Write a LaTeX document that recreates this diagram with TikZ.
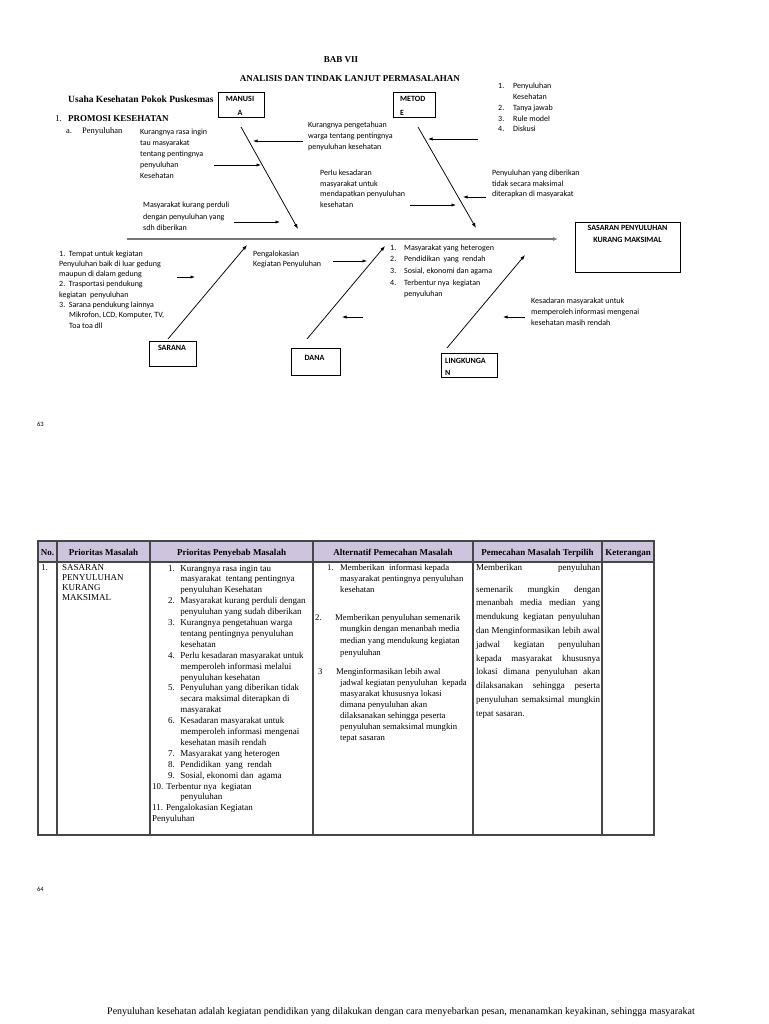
\documentclass[tikz,border=0pt]{standalone}
\usepackage{fontspec}
\setmainfont{Liberation Serif}
\newfontfamily\calfont{Carlito}
\usetikzlibrary{arrows.meta}
\definecolor{hdrfill}{RGB}{206,196,222}
\definecolor{tabline}{RGB}{70,70,70}
\definecolor{spinegray}{RGB}{120,120,120}
\newcommand{\ltab}[1]{\begin{tabular}[t]{@{}l@{}}#1\end{tabular}}
\newcommand{\ctab}[1]{\begin{tabular}[t]{@{}c@{}}#1\end{tabular}}
\begin{document}
\begin{tikzpicture}[x=1pt,y=-1pt,
 ann/.style={font=\calfont\fontsize{8}{11}\selectfont,anchor=base west,inner sep=0pt},
 boxlbl/.style={font=\calfont\bfseries\fontsize{8}{14}\selectfont,inner sep=0pt},
 cbox/.style={draw=black,line width=0.9pt,inner sep=0pt},
 bone/.style={line width=0.75pt,-{Latex[length=5pt,width=3.5pt]}},
 sarr/.style={line width=0.7pt,-{Latex[length=4.5pt,width=3.2pt]}},
 ttl/.style={font=\bfseries\fontsize{9}{11}\selectfont,inner sep=0pt},
 txt/.style={font=\fontsize{9}{10.9}\selectfont,anchor=base west,inner sep=0pt},
 hd/.style={font=\bfseries\fontsize{9}{11}\selectfont,anchor=base,inner sep=0pt},
 tl/.style={draw=tabline,line width=1.1pt}
]
\fill[white] (0,0) rectangle (768,1024);
\path[use as bounding box] (0,0) rectangle (768,1024);

% ---------- titles ----------
\node[ttl,anchor=base] (bab) at (341,63) {BAB VII};
\node[ttl,anchor=base] (judul) at (350,82) {ANALISIS DAN TINDAK LANJUT PERMASALAHAN};
\node[font=\bfseries\fontsize{9.5}{11}\selectfont,anchor=base west,inner sep=0pt] (usaha) at (68,103) {Usaha Kesehatan Pokok Puskesmas};
\node[font=\fontsize{9}{11}\selectfont,anchor=base west,inner sep=0pt] (nsatu) at (55,122) {1.};
\node[ttl,anchor=base west] (promosi) at (68,122) {PROMOSI KESEHATAN};
\node[font=\fontsize{8.5}{11}\selectfont,anchor=base west,inner sep=0pt] (pa) at (66,134) {a.};
\node[font=\fontsize{8.5}{11}\selectfont,anchor=base west,inner sep=0pt] (peny) at (82,134) {Penyuluhan};

% ---------- boxes ----------
\node[cbox,minimum width=46pt,minimum height=25pt] (manusia) at (241,104.5) {};
\node[boxlbl,anchor=base] (manusiaL) at (240,102) {\ctab{MANUSI\\A}};
\node[cbox,minimum width=42pt,minimum height=25pt] (metode) at (414,104.5) {};
\node[boxlbl,anchor=base west] (metodeL) at (400,102) {\ltab{METOD\\E}};
\node[cbox,minimum width=105pt,minimum height=50pt] (sasaran) at (627.5,247) {};
\node[boxlbl,font=\calfont\bfseries\fontsize{8}{11}\selectfont,anchor=base] (sasaranL) at (627.5,231) {\ctab{SASARAN PENYULUHAN\\KURANG MAKSIMAL}};
\node[cbox,minimum width=47pt,minimum height=25pt] (sarana) at (172.5,353.5) {};
\node[boxlbl,anchor=base] (saranaL) at (172,350) {SARANA};
\node[cbox,minimum width=49pt,minimum height=27pt] (dana) at (315.5,361.5) {};
\node[boxlbl,anchor=base] (danaL) at (314.5,360) {DANA};
\node[cbox,minimum width=56pt,minimum height=24pt] (lingk) at (469,365) {};
\node[boxlbl,font=\calfont\bfseries\fontsize{8}{12}\selectfont,anchor=base west] (lingkL) at (445,363) {\ltab{LINGKUNGA\\N}};

% ---------- bones ----------
\coordinate (mA) at (241,127); \coordinate (mB) at (298,229);
\coordinate (tA) at (418,127); \coordinate (tB) at (476,228);
\coordinate (sA) at (168,339); \coordinate (sB) at (247,245);
\coordinate (dA) at (307,339); \coordinate (dB) at (385,246);
\coordinate (lA) at (447,348); \coordinate (lB) at (525,255);
\coordinate (spA) at (127,239); \coordinate (spB) at (558,239);
\draw[line width=1.4pt,spinegray,-{Latex[length=5pt,width=4pt]}] (spA) -- (spB);
\draw[bone] (mA) -- (mB);
\draw[bone] (tA) -- (tB);
\draw[bone] (sA) -- (sB);
\draw[bone] (dA) -- (dB);
\draw[bone] (lA) -- (lB);

% ---------- small arrows ----------
\coordinate (a1s) at (214,165); \coordinate (a1e) at (261,165);
\coordinate (a2s) at (303,141); \coordinate (a2e) at (253,141);
\coordinate (a3s) at (234,222); \coordinate (a3e) at (280,222);
\coordinate (a4s) at (410,205); \coordinate (a4e) at (456,205);
\coordinate (a5s) at (478,139); \coordinate (a5e) at (428,139);
\coordinate (a6s) at (486,197); \coordinate (a6e) at (463,197);
\coordinate (a7s) at (177,277); \coordinate (a7e) at (195,277);
\coordinate (a8s) at (333,261); \coordinate (a8e) at (367,261);
\coordinate (a9s) at (363,317); \coordinate (a9e) at (342,317);
\coordinate (a10s) at (525,317); \coordinate (a10e) at (503,317);
\foreach \i in {1,...,10} {\draw[sarr] (a\i s) -- (a\i e);}

% ---------- annotations ----------
\node[ann] (t1) at (140,135) {\ltab{Kurangnya rasa ingin\\tau masyarakat\\tentang pentingnya\\penyuluhan\\Kesehatan}};
\node[ann,font=\calfont\fontsize{8}{10.8}\selectfont] (t2) at (308,128) {\ltab{Kurangnya pengetahuan\\warga tentang pentingnya\\penyuluhan kesehatan}};
\node[ann,font=\calfont\fontsize{8}{10.4}\selectfont] (t3) at (320,176) {\ltab{Perlu kesadaran\\masyarakat untuk\\mendapatkan penyuluhan\\kesehatan}};
\node[ann] (t4) at (143,208) {\ltab{Masyarakat kurang perduli\\dengan penyuluhan yang\\sdh diberikan}};
\node[ann,font=\calfont\fontsize{8}{10.75}\selectfont] (t5) at (498,89) {\begin{tabular}[t]{@{}p{15pt}@{}l@{}}1.&Penyuluhan\\&Kesehatan\\2.&Tanya jawab\\3.&Rule model\\4.&Diskusi\end{tabular}};
\node[ann,font=\calfont\fontsize{8}{10.5}\selectfont] (t6) at (492,176) {\ltab{Penyuluhan yang diberikan\\tidak secara maksimal\\diterapkan di masyarakat}};
\node[ann,font=\calfont\fontsize{8}{10.3}\selectfont] (t7) at (59,256) {\ltab{1.\ \ Tempat untuk kegiatan\\Penyuluhan baik di luar gedung\\maupun di dalam gedung\\2.\ \ Trasportasi pendukung\\kegiatan\ \ penyuluhan\\3.\ \ Sarana pendukung lainnya\\\hspace*{10pt}Mikrofon, LCD, Komputer, TV,\\\hspace*{10pt}Toa toa dll}};
\node[ann,font=\calfont\fontsize{8}{10.5}\selectfont] (t8) at (253,256) {\ltab{Pengalokasian\\Kegiatan Penyuluhan}};
\node[ann,font=\calfont\fontsize{8}{11.75}\selectfont] (t9) at (390,250) {\begin{tabular}[t]{@{}p{14pt}@{}l@{}}1.&Masyarakat yang heterogen\\2.&Pendidikan\ \ yang\ \ rendah\\3.&Sosial, ekonomi dan agama\\4.&Terbentur nya\ \ kegiatan\\&penyuluhan\end{tabular}};
\node[ann] (t10) at (531,303) {\ltab{Kesadaran masyarakat untuk\\memperoleh informasi mengenai\\kesehatan masih rendah}};

% ---------- page numbers ----------
\node[font=\calfont\fontsize{6.5}{8}\selectfont,anchor=base west,inner sep=0pt] (p63) at (37,426.5) {63};
\node[font=\calfont\fontsize{6.5}{8}\selectfont,anchor=base west,inner sep=0pt] (p64) at (37,891.5) {64};

% ---------- table ----------
\fill[hdrfill] (38,541) rectangle (654,562);
\draw[tl] (38,541) rectangle (654,835);
\draw[tl] (38,562) -- (654,562);
\foreach \cx in {57,150,313,473,602} {\draw[tl] (\cx,541) -- (\cx,835);}

\node[hd] (h1) at (47.5,555) {No.};
\node[hd] (h2) at (103.5,555) {Prioritas Masalah};
\node[hd] (h3) at (231.5,555) {Prioritas Penyebab Masalah};
\node[hd] (h4) at (393,555) {Alternatif Pemecahan Masalah};
\node[hd] (h5) at (537.5,555) {Pemecahan Masalah Terpilih};
\node[hd] (h6) at (628,555) {Keterangan};

\node[txt] (c1) at (41,570) {1.};
\node[txt,font=\fontsize{9}{10.3}\selectfont] (c2) at (62,570) {\ltab{SASARAN\\PENYULUHAN\\KURANG\\MAKSIMAL}};

\node[txt] (c3) at (168,571) {\begin{tabular}[t]{@{}r@{\hspace{5.5pt}}l@{}}
1. & Kurangnya rasa ingin tau\\
 & masyarakat\ \ tentang pentingnya\\
 & penyuluhan Kesehatan\\
2. & Masyarakat kurang perduli dengan\\
 & penyuluhan yang sudah diberikan\\
3. & Kurangnya pengetahuan warga\\
 & tentang pentingnya penyuluhan\\
 & kesehatan\\
4. & Perlu kesadaran masyarakat untuk\\
 & memperoleh informasi melalui\\
 & penyuluhan kesehatan\\
5. & Penyuluhan yang diberikan tidak\\
 & secara maksimal diterapkan di\\
 & masyarakat\\
6. & Kesadaran masyarakat untuk\\
 & memperoleh informasi mengenai\\
 & kesehatan masih rendah\\
7. & Masyarakat yang heterogen\\
8. & Pendidikan\ \ yang\ \ rendah\\
9. & Sosial, ekonomi dan\ \ agama\\
\multicolumn{2}{@{\hspace*{-16pt}}l@{}}{10. Terbentur nya\ \ kegiatan}\\
 & penyuluhan\\
\multicolumn{2}{@{\hspace*{-16pt}}l@{}}{11. Pengalokasian Kegiatan}\\
\multicolumn{2}{@{\hspace*{-16pt}}l@{}}{Penyuluhan}
\end{tabular}};

\node[txt,font=\fontsize{8.7}{11}\selectfont] (c4an) at (327,570) {1.};
\node[txt,font=\fontsize{8.7}{11}\selectfont] (c4a) at (340,570) {\ltab{Memberikan\ \ informasi kepada\\masyarakat pentingnya penyuluhan\\kesehatan}};
\node[txt,font=\fontsize{8.7}{11}\selectfont] (c4bn) at (315,620) {2.};
\node[txt,font=\fontsize{8.7}{11.7}\selectfont] (c4b) at (340,620) {\ltab{\hspace*{-5pt}Memberikan penyuluhan semenarik\\mungkin dengan menanbah media\\median yang mendukung kegiatan\\penyuluhan}};
\node[txt,font=\fontsize{8.7}{11}\selectfont] (c4cn) at (318,674) {3};
\node[txt,font=\fontsize{8.7}{11}\selectfont] (c4c) at (340,674) {\ltab{\hspace*{-4pt}Menginformasikan lebih awal\\jadwal kegiatan penyuluhan\ \ kepada\\masyarakat khususnya lokasi\\dimana penyuluhan akan\\dilaksanakan sehingga peserta\\penyuluhan semaksimal mungkin\\tepat sasaran}};

\node[txt,font=\fontsize{9}{13.8}\selectfont] (c5) at (476,570) {\ltab{\makebox[124pt][s]{Memberikan penyuluhan}\\[8.2pt]
\makebox[124pt][s]{semenarik mungkin dengan}\\
\makebox[124pt][s]{menanbah media median yang}\\
\makebox[124pt][s]{mendukung kegiatan penyuluhan}\\
\makebox[124pt][s]{dan Menginformasikan lebih awal}\\
\makebox[124pt][s]{jadwal kegiatan penyuluhan}\\
\makebox[124pt][s]{kepada masyarakat khususnya}\\
\makebox[124pt][s]{lokasi dimana penyuluhan akan}\\
\makebox[124pt][s]{dilaksanakan sehingga peserta}\\
\makebox[124pt][s]{penyuluhan semaksimal mungkin}\\
tepat sasaran.}};

% ---------- bottom text ----------
\node[txt,font=\fontsize{10}{12}\selectfont] (body) at (107,1014) {Penyuluhan kesehatan adalah kegiatan pendidikan yang dilakukan dengan cara menyebarkan pesan, menanamkan keyakinan, sehingga masyarakat};
\end{tikzpicture}
\end{document}
